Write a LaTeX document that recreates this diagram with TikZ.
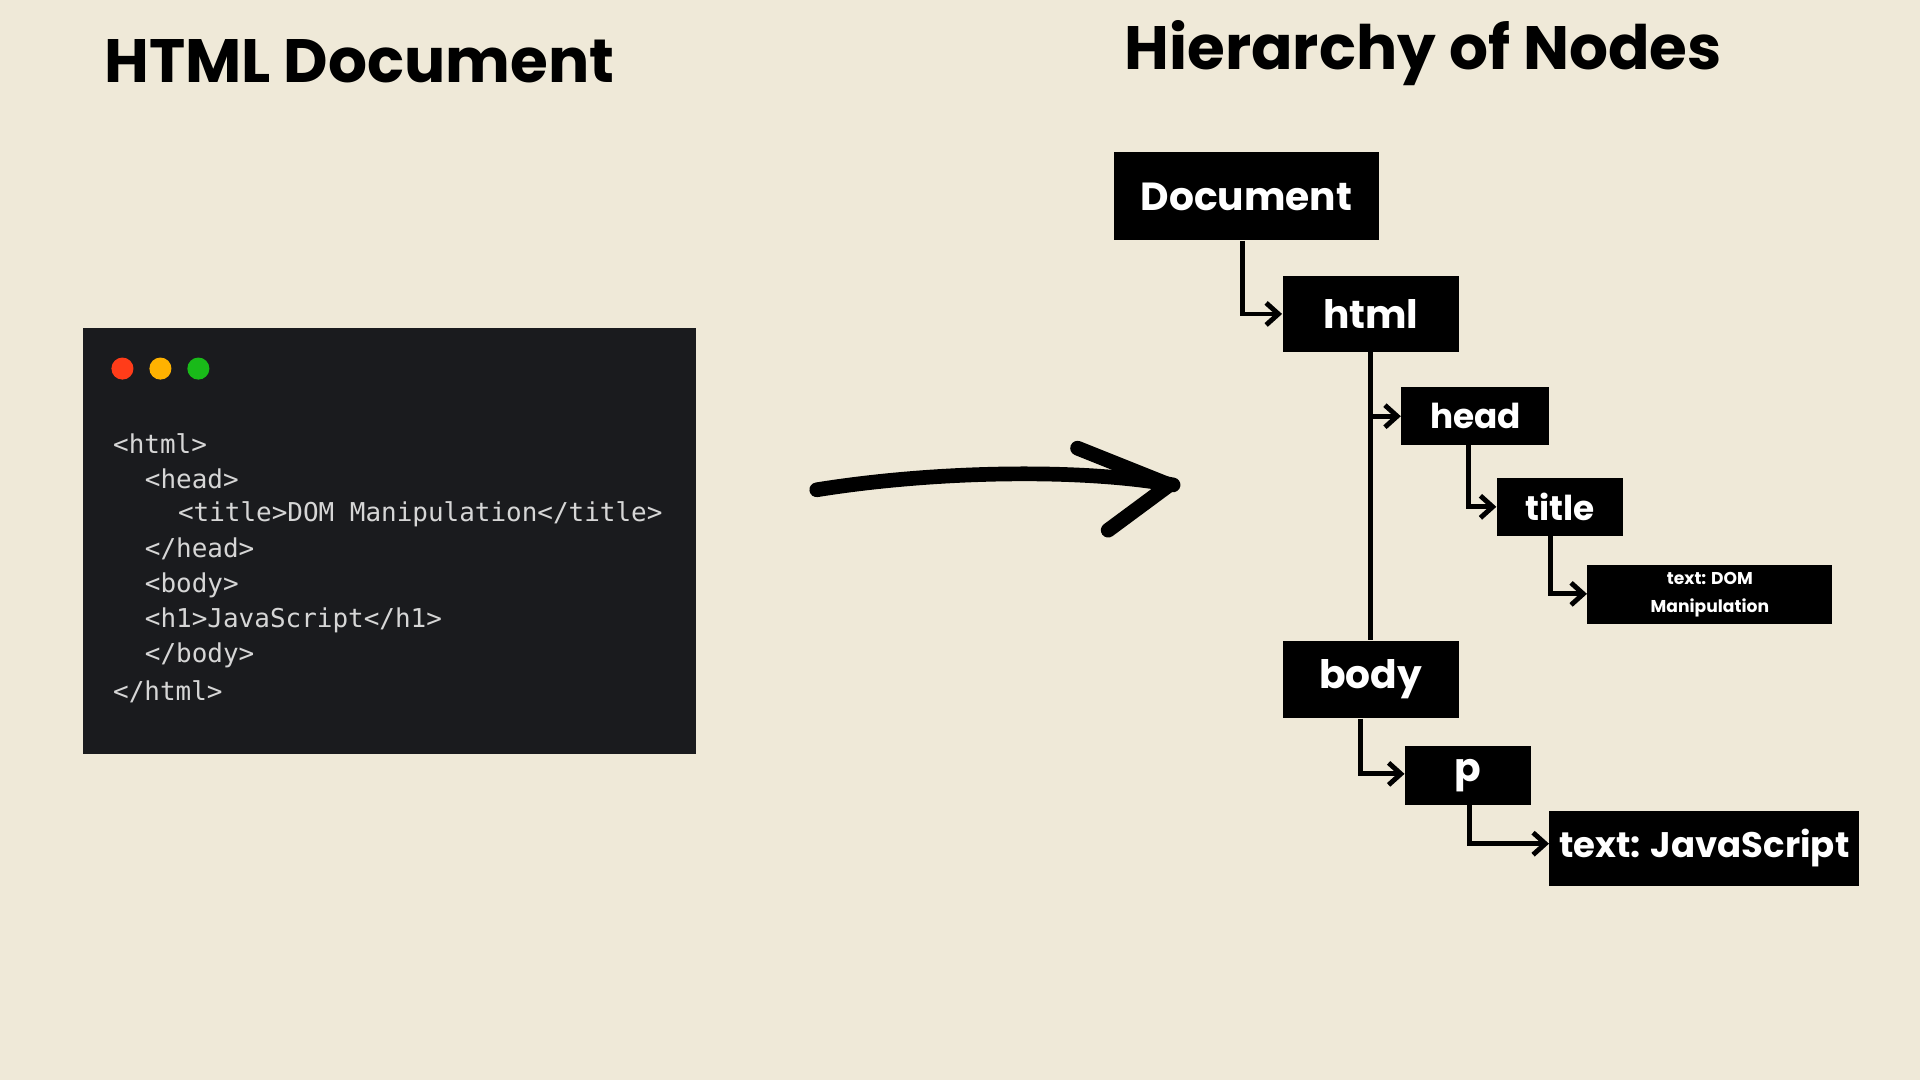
\documentclass[tikz,border=0pt]{standalone}
\usepackage{fontspec}
\setmainfont{Poppins}
\newfontfamily\codefont{DejaVu Sans Mono}
\usetikzlibrary{arrows.meta}
\definecolor{bg}{HTML}{EFE9D8}
\definecolor{codebg}{HTML}{1A1B1E}
\definecolor{codefg}{HTML}{D6D6D6}
\begin{document}
\begin{tikzpicture}[x=0.5pt,y=-0.5pt,
  nbox/.style={fill=black,text=white,font=\bfseries\fontsize{16}{18}\selectfont,inner sep=0pt,anchor=north west},
  conn/.style={line width=2pt,-{Straight Barb[length=5pt,width=9pt,line width=2pt]}},
  codeline/.style={anchor=west,text=codefg,font=\codefont\fontsize{10.6}{12}\selectfont,inner sep=0pt},
  heading/.style={font=\bfseries\fontsize{25}{28}\selectfont,anchor=west,inner sep=0pt}]
\fill[bg] (0,0) rectangle (1568,882);
\useasboundingbox (0,0) rectangle (1568,882);
\node[heading] (h1) at (85,50) {HTML Document};
\node[heading] (h2) at (918,43) {Hierarchy of Nodes};
% code window
\fill[codebg] (68,268) rectangle (568,616);
\fill[red!70!orange!90!white] (100,301) circle (9);
\fill[orange!60!yellow] (131,301) circle (9);
\fill[green!70!black!90!white] (162,301) circle (9);
\node[codeline] (c1) at (92,362) {<html>};
\node[codeline] (c2) at (118,391) {<head>};
\node[codeline] (c3) at (145,420) {<title>DOM Manipulation</title>};
\node[codeline] (c4) at (118,448) {</head>};
\node[codeline] (c5) at (118,478) {<body>};
\node[codeline] (c6) at (118,507) {<h1>JavaScript</h1>};
\node[codeline] (c7) at (118,535) {</body>};
\node[codeline] (c8) at (92,565) {</html>};
% big arrow
\draw[line width=6pt,line cap=round,line join=round] (667,400) .. controls (760,385) and (880,382) .. (958,396);
\draw[line width=6pt,line cap=round,line join=round] (880,366) -- (955,396) -- (905,433);
% nodes
\node[nbox,minimum width=108.5pt,minimum height=36pt] (doc) at (909,124) {Document};
\node[nbox,minimum width=72pt,minimum height=31pt] (html) at (1047,225) {html};
\node[nbox,minimum width=60.5pt,minimum height=23.5pt,font=\bfseries\fontsize{14}{16}\selectfont] (head) at (1144,316) {head};
\node[nbox,minimum width=51.5pt,minimum height=23.5pt,font=\bfseries\fontsize{14}{16}\selectfont] (title) at (1222,390) {title};
\node[nbox,minimum width=100pt,minimum height=24pt,align=center,font=\bfseries\fontsize{7}{11.5}\selectfont] (tdom) at (1296,461) {text: DOM\\Manipulation};
\node[nbox,minimum width=72pt,minimum height=31.5pt] (body) at (1047,523) {body};
\node[nbox,minimum width=51.5pt,minimum height=24pt] (p) at (1147,609) {p};
\node[nbox,minimum width=126.5pt,minimum height=30.5pt,font=\bfseries\fontsize{14.5}{16}\selectfont] (tjs) at (1265,662) {text: JavaScript};
% connectors
\draw[conn] (doc.south west) ++(106,0) coordinate (d1) |- (html.west);
\draw[line width=2pt] (html.south) -- (body.north);
\draw[conn] (html.south |- head.west) -- (head.west);
\draw[conn] (head.south west) ++(55,0) coordinate (e1) |- (title.west);
\draw[conn] (title.south west) ++(44,0) coordinate (e2) |- ([yshift=-0pt]tdom.west |- 0,485);
\draw[conn] (body.south west) ++(64,0) coordinate (e3) |- (p.west |- 0,632);
\draw[conn] (p.south west) ++(53,0) coordinate (e4) |- (tjs.west |- 0,689);
\end{tikzpicture}
\end{document}
